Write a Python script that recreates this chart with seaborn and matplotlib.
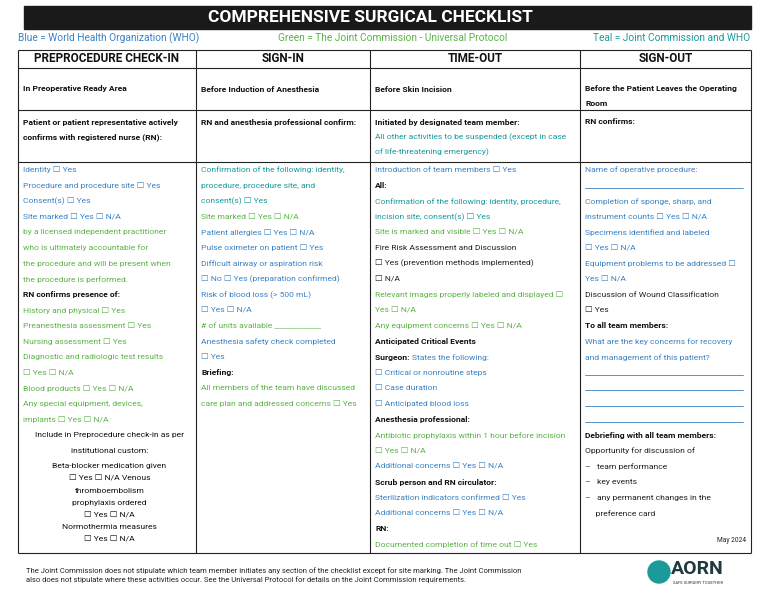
import numpy as np
import seaborn as sns
import matplotlib.pyplot as plt

sns.set_theme(style="white")
plt.rcParams['font.family'] = ['Roboto', 'DejaVu Sans']

COLORS = {'b': '#3b82c4', 'g': '#5bb347', 't': '#1a9a9a', 'k': '#222222', 'K': '#111111'}

title = "COMPREHENSIVE SURGICAL CHECKLIST"
legend_items = [("Blue = World Health Organization (WHO)", 'b'),
                ("Green = The Joint Commission - Universal Protocol", 'g'),
                ("Teal = Joint Commission and WHO", 't')]
headers = ["PREPROCEDURE CHECK-IN", "SIGN-IN", "TIME-OUT", "SIGN-OUT"]
row2 = [["In Preoperative Ready Area"], ["Before Induction of Anesthesia"], ["Before Skin Incision"],
        ["Before the Patient Leaves the Operating", "Room"]]
row3 = [["K|Patient or patient representative actively", "K|confirms with registered nurse (RN):"],
        ["K|RN and anesthesia professional confirm:"],
        ["K|Initiated by designated team member:", "t|All other activities to be suspended (except in case",
         "t|of life-threatening emergency)"],
        ["K|RN confirms:"]]

col1 = ["b|Identity ☐ Yes", "b|Procedure and procedure site ☐ Yes", "b|Consent(s) ☐ Yes",
        "b|Site marked ☐ Yes ☐ N/A", "g|by a licensed independent practitioner",
        "g|who is ultimately accountable for", "g|the procedure and will be present when",
        "g|the procedure is performed.", "K|RN confirms presence of:", "g|History and physical ☐ Yes",
        "g|Preanesthesia assessment ☐ Yes", "g|Nursing assessment ☐ Yes",
        "g|Diagnostic and radiologic test results", "g|☐ Yes ☐ N/A", "g|Blood products ☐ Yes ☐ N/A",
        "g|Any special equipment, devices,", "g|implants ☐ Yes ☐ N/A",
        "c|Include in Preprocedure check-in as per", "c|institutional custom:",
        "c|Beta-blocker medication given", "c|☐ Yes ☐ N/A Venous", "c|thromboembolism",
        "c|prophylaxis ordered", "c|☐ Yes ☐ N/A", "c|Normothermia measures", "c|☐ Yes ☐ N/A"]
col2 = ["t|Confirmation of the following: identity,", "t|procedure, procedure site, and",
        "t|consent(s) ☐ Yes", "g|Site marked ☐ Yes ☐ N/A", "b|Patient allergies ☐ Yes ☐ N/A",
        "b|Pulse oximeter on patient ☐ Yes", "b|Difficult airway or aspiration risk",
        "b|☐ No ☐ Yes (preparation confirmed)", "b|Risk of blood loss (> 500 mL)", "b|☐ Yes ☐ N/A",
        "g|# of units available ____________", "b|Anesthesia safety check completed", "b|☐ Yes",
        "K|Briefing:", "g|All members of the team have discussed", "g|care plan and addressed concerns ☐ Yes"]
col3 = ["b|Introduction of team members ☐ Yes", "K|All:",
        "t|Confirmation of the following: identity, procedure,", "t|incision site, consent(s) ☐ Yes",
        "g|Site is marked and visible ☐ Yes ☐ N/A", "k|Fire Risk Assessment and Discussion",
        "k|☐ Yes (prevention methods implemented)", "k|☐ N/A",
        "g|Relevant images properly labeled and displayed ☐", "g|Yes ☐ N/A",
        "g|Any equipment concerns ☐ Yes ☐ N/A", "K|Anticipated Critical Events",
        "K|Surgeon: ;b|States the following:", "b|☐ Critical or nonroutine steps", "b|☐ Case duration",
        "b|☐ Anticipated blood loss", "K|Anesthesia professional:",
        "g|Antibiotic prophylaxis within 1 hour before incision", "g|☐ Yes ☐ N/A",
        "b|Additional concerns ☐ Yes ☐ N/A", "K|Scrub person and RN circulator:",
        "b|Sterilization indicators confirmed ☐ Yes", "b|Additional concerns ☐ Yes ☐ N/A", "K|RN:",
        "g|Documented completion of time out ☐ Yes"]
col4 = ["b|Name of operative procedure:", "_", "b|Completion of sponge, sharp, and",
        "b|instrument counts ☐ Yes ☐ N/A", "b|Specimens identified and labeled", "b|☐ Yes ☐ N/A",
        "b|Equipment problems to be addressed ☐", "b|Yes ☐ N/A", "k|Discussion of Wound Classification",
        "k|☐ Yes", "K|To all team members:", "b|What are the key concerns for recovery",
        "b|and management of this patient?", "_", "_", "_", "_", "K|Debriefing with all team members:",
        "k|Opportunity for discussion of", "k|–   team performance", "k|–   key events",
        "k|–   any permanent changes in the", "k|     preference card"]
columns = [col1, col2, col3, col4]
footer = ["The Joint Commission does not stipulate which team member initiates any section of the checklist except for site marking. The Joint Commission",
          "also does not stipulate where these activities occur. See the Universal Protocol for details on the Joint Commission requirements."]

col_edges = [18, 196, 370, 580, 751]
row_edges = [50, 68, 110, 162, 553]
FS = 6.1

fig = plt.figure(figsize=(7.68, 5.94), dpi=100)
ax = fig.add_axes([0, 0, 1, 1])
ax.set_xlim(0, 768)
ax.set_ylim(594, 0)
ax.axis('off')
renderer = fig.canvas.get_renderer()

# title bar
ax.add_patch(plt.Rectangle((24, 6), 727, 23, color='#1a1a1a'))
ax.text(370, 17.5, title, color='white', fontsize=12.5, fontweight='bold', ha='center', va='center')
ax.text(18, 38, legend_items[0][0], color=COLORS['b'], fontsize=7.3, va='center')
ax.text(393, 38, legend_items[1][0], color=COLORS['g'], fontsize=7.3, va='center', ha='center')
ax.text(750, 38, legend_items[2][0], color=COLORS['t'], fontsize=7.3, va='center', ha='right')

# grid
ax.hlines(row_edges, col_edges[0], col_edges[-1], color='#222222', lw=0.8)
ax.vlines(col_edges, row_edges[0], row_edges[-1], color='#222222', lw=0.8)


def draw_line(x, y, spec, x_right):
    if spec == "_":
        ax.plot([x, x_right - 8], [y + 2, y + 2], color=COLORS['b'], lw=0.6)
        return
    for part in spec.split(";"):
        key, txt = part.split("|", 1)
        if key == 'c':
            ax.text((x + x_right) / 2, y, txt, color='#111111', fontsize=FS, va='center', ha='center')
            continue
        t = ax.text(x, y, txt, color=COLORS[key], fontsize=FS, va='center',
                    fontweight='bold' if key == 'K' else 'normal')
        bb = t.get_window_extent(renderer)
        x += bb.width


for i, h in enumerate(headers):
    xm = (col_edges[i] + col_edges[i + 1]) / 2
    ax.text(xm, 59, h, fontsize=8.5, fontweight='bold', ha='center', va='center', color='#111111')
    for j, s in enumerate(row2[i]):
        ax.text(col_edges[i] + 5, 89 + j * 14, s, fontsize=FS, fontweight='bold', va='center', color='#111111')
    for j, s in enumerate(row3[i]):
        draw_line(col_edges[i] + 5, 122 + j * 15, s, col_edges[i + 1])
    for j, s in enumerate(columns[i]):
        if i == 0 and j >= 19:
            y = 170 + 19 * 15.6 + (j - 19) * 12.2
        else:
            y = 170 + j * 15.6
        draw_line(col_edges[i] + 5, y, s, col_edges[i + 1])

ax.text(746, 540, "May 2024", fontsize=4.8, ha='right', va='center', color='#222222')
for j, s in enumerate(footer):
    ax.text(26, 571 + j * 8.5, s, fontsize=5.5, va='center', color='#222222')

# logo
ax.add_patch(plt.Circle((659, 572), 11, color='#1a9a9a'))
ax.text(671, 569, "AORN", fontsize=14, fontweight='bold', color='#1f3a3d', va='center')
ax.text(673, 583, "SAFE SURGERY TOGETHER", fontsize=3, color='#1f3a3d', va='center')

fig.savefig("out.png", dpi=100)
